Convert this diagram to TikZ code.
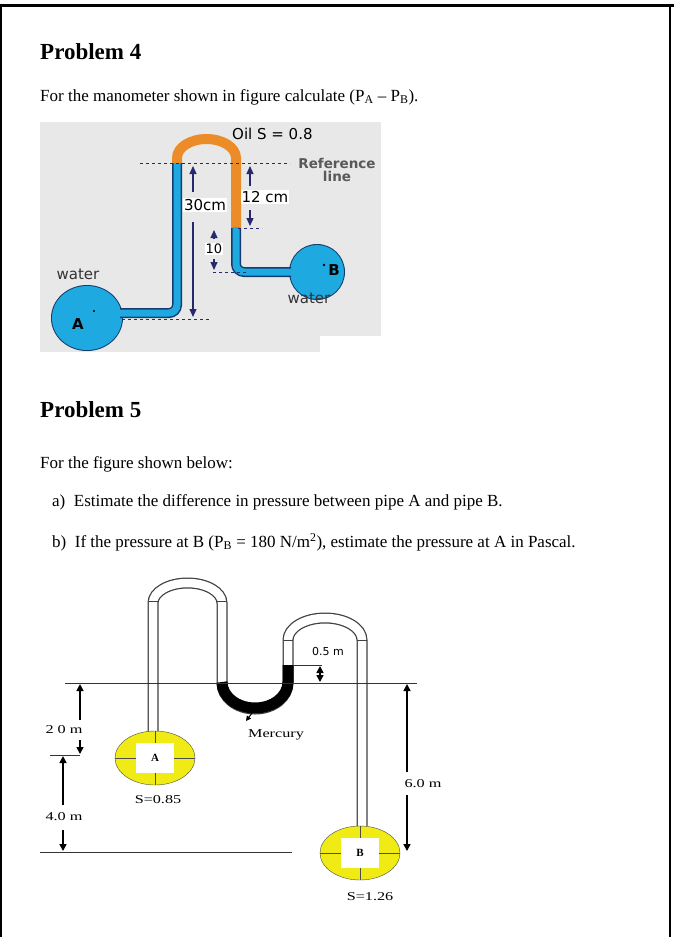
\documentclass[tikz,border=0pt]{standalone}
\usepackage{fontspec}
\setmainfont{Liberation Serif}
\newfontfamily\sansf{DejaVu Sans}
\newfontfamily\wide[FakeStretch=1.35]{Liberation Serif}
\usetikzlibrary{arrows.meta,shapes.geometric}
\definecolor{wblue}{RGB}{30,170,225}
\definecolor{dblue}{RGB}{20,60,110}
\definecolor{oil}{RGB}{235,140,40}
\definecolor{bggray}{RGB}{232,232,232}
\definecolor{dimc}{RGB}{40,40,110}
\definecolor{yel}{RGB}{240,235,20}
\tikzset{
 body/.style={anchor=west,font=\fontsize{17}{19}\selectfont,inner sep=0},
 head/.style={anchor=west,font=\fontsize{23}{25}\selectfont\bfseries,inner sep=0},
 lab/.style={font=\sansf\fontsize{15}{16}\selectfont,inner sep=1pt},
 labw/.style={lab,fill=white},
 dashl/.style={dashed,dimc,line width=0.9pt},
 dimarr/.style={dimc,line width=1.2pt,-{Triangle[length=8pt,width=7pt]}},
 pipeo/.style={line width=10pt,dblue},
 pipei/.style={line width=7pt,wblue},
 tubeo/.style={line width=11pt,black!75},
 tubei/.style={line width=8.5pt,white},
 merc/.style={line width=11pt,black},
 sl/.style={font=\wide\fontsize{12}{13}\selectfont,inner sep=1pt},
 barr/.style={line width=1.6pt,{Triangle[length=7pt,width=7pt]}-{Triangle[length=7pt,width=7pt]}},
 barrow/.style={line width=1.6pt,-{Triangle[length=7pt,width=7pt]}},
}
\begin{document}
\begin{tikzpicture}[x=1pt,y=-1pt]
\useasboundingbox (0,0) rectangle (674,937);
\fill[white] (0,0) rectangle (674,937);
\draw[line width=3pt] (0,5) -- (674,5);
\draw[line width=1.5pt] (1,5) -- (1,937);
\draw[line width=1.5pt] (670,5) -- (670,937);
\node[head] (h4) at (40,52) {Problem 4};
\node[body] (t1) at (40,97) {For the manometer shown in figure calculate (P\textsubscript{A} -- P\textsubscript{B}).};
% figure 1
\fill[bggray] (40,122) rectangle (381,352);
\fill[white] (320,336) rectangle (381,352);
\fill[dblue] (87,318) ellipse (36pt and 33pt);
\fill[wblue] (87,318) ellipse (35pt and 32pt);
\fill[dblue] (317,272) circle (28pt);
\fill[wblue] (317,272) circle (27pt);
\draw[pipeo,rounded corners=8pt] (120,313) -- (177,313) -- (177,163);
\draw[pipei,rounded corners=8pt] (119,313) -- (177,313) -- (177,163);
\draw[line width=10pt,oil] (177,163) -- (177,158) arc[start angle=180,end angle=360,x radius=29.5,y radius=19] -- (236,228);
\draw[pipeo,rounded corners=8pt] (236,228) -- (236,272) -- (291,272);
\draw[pipei,rounded corners=8pt] (236,227) -- (236,272) -- (292,272);
\fill[black] (94,311) circle (1.2pt);
\node[font=\sansf\bfseries\fontsize{15}{15}\selectfont] (la) at (78,324) {A};
\fill[black] (324,265) circle (1.3pt);
\node[font=\sansf\bfseries\fontsize{15}{15}\selectfont] (lb) at (334,270) {B};
\coordinate (r1) at (140,163); \coordinate (r2) at (290,163);
\draw[dashl] (r1) -- (r2);
\coordinate (c1) at (238,228); \coordinate (c2) at (262,228);
\draw[dashl] (c1) -- (c2);
\coordinate (d1) at (213,272); \coordinate (d2) at (247,272);
\draw[dashl] (d1) -- (d2);
\coordinate (e1) at (122,319); \coordinate (e2) at (210,319);
\draw[dashl] (e1) -- (e2);
\node[labw] (l30) at (205,205) {30cm};
\draw[dimarr] (193,192) -- (193,166);
\draw[dimarr] (193,222) -- (193,317);
\node[labw] (l12) at (265,197) {12 cm};
\draw[dimarr] (250,186) -- (250,166);
\draw[dimarr] (250,210) -- (250,226);
\node[labw,font=\sansf\fontsize{13}{13}\selectfont] (l10) at (214,249) {10};
\draw[dimarr] (214,239) -- (214,230);
\draw[dimarr] (214,259) -- (214,270);
\node[lab,anchor=west] (oiltxt) at (231,134) {Oil S = 0.8};
\node[lab,align=center,text=black!65,font=\sansf\bfseries\fontsize{13.5}{13}\selectfont] (ref) at (337,170) {Reference\\line};
\node[lab,text=black!80] (w1) at (78,274) {water};
\node[lab,text=black!80] (w2) at (309,298) {water};
% problem 5
\node[head] (h5) at (40,410) {Problem 5};
\node[body] (t2) at (40,464) {For the figure shown below:};
\node[body] (t3) at (52,502) {a)\ \ Estimate the difference in pressure between pipe A and pipe B.};
\node[body] (t4) at (52,542) {b)\ \ If the pressure at B (P\textsubscript{B} = 180 N/m\textsuperscript{2}), estimate the pressure at A in Pascal.};
% figure 2
\draw[tubeo] (153,732) -- (153,603) arc[start angle=180,end angle=360,x radius=34.5,y radius=20] -- (222,683) arc[start angle=180,end angle=0,x radius=33,y radius=26] -- (288,640) arc[start angle=180,end angle=360,x radius=37,y radius=22] -- (362,826);
\draw[tubei] (153,732) -- (153,603) arc[start angle=180,end angle=360,x radius=34.5,y radius=20] -- (222,683) arc[start angle=180,end angle=0,x radius=33,y radius=26] -- (288,640) arc[start angle=180,end angle=360,x radius=37,y radius=22] -- (362,826);
\draw[merc] (222,682) arc[start angle=180,end angle=0,x radius=33,y radius=26] -- (288,665);
\foreach \x/\y in {153/601,222/601,288/640,362/640}{\draw[black!75,line width=0.6pt] (\x-5,\y) -- (\x+5,\y);}
\node[draw=black!70,fill=yel,ellipse,minimum width=80pt,minimum height=54pt,inner sep=0] (PA) at (155,758) {};
\draw[black!70] (PA.west) -- (PA.east) (PA.north) -- (PA.south);
\node[fill=white,minimum width=38pt,minimum height=30pt,font=\bfseries\fontsize{11}{11}\selectfont] (PAl) at (PA) {A};
\node[draw=black!70,fill=yel,ellipse,minimum width=80pt,minimum height=54pt,inner sep=0] (PB) at (360,853) {};
\draw[black!70] (PB.west) -- (PB.east) (PB.north) -- (PB.south);
\node[fill=white,minimum width=38pt,minimum height=30pt,font=\bfseries\fontsize{11}{11}\selectfont] (PBl) at (PB) {B};
\coordinate (h1) at (65,683); \coordinate (h2) at (417,683);
\draw[black!80] (h1) -- (h2);
\coordinate (g1) at (40,852); \coordinate (g2) at (292,852);
\draw[black!80] (g1) -- (g2);
\coordinate (k1) at (50,755); \coordinate (k2) at (80,755);
\draw[black!80] (k1) -- (k2);
\coordinate (m1) at (293,665); \coordinate (m2) at (322,665);
\draw[black!80] (m1) -- (m2);
\draw[barrow] (80,720) -- (80,684);
\draw[barrow] (80,740) -- (80,754);
\node[sl] (l20) at (64,730) {2 0 m};
\draw[barrow] (63,805) -- (63,756);
\draw[barrow] (63,830) -- (63,851);
\node[sl] (l40) at (64,817) {4.0 m};
\draw[barrow] (407,772) -- (407,684);
\draw[barrow] (407,795) -- (407,851);
\node[sl] (l60) at (423,784) {6.0 m};
\draw[barr] (320,666) -- (320,682);
\node[sl,font=\sansf\fontsize{11}{11}\selectfont] (l05) at (328,651) {0.5 m};
\node[sl] (lm) at (276,735) {Mercury};
\draw[line width=1pt,-{Triangle[length=5pt,width=5pt]}] (252,713) -- (246,721);
\node[sl] (s1) at (158,800) {S=0.85};
\node[sl] (s2) at (370,897) {S=1.26};
\end{tikzpicture}
\end{document}
